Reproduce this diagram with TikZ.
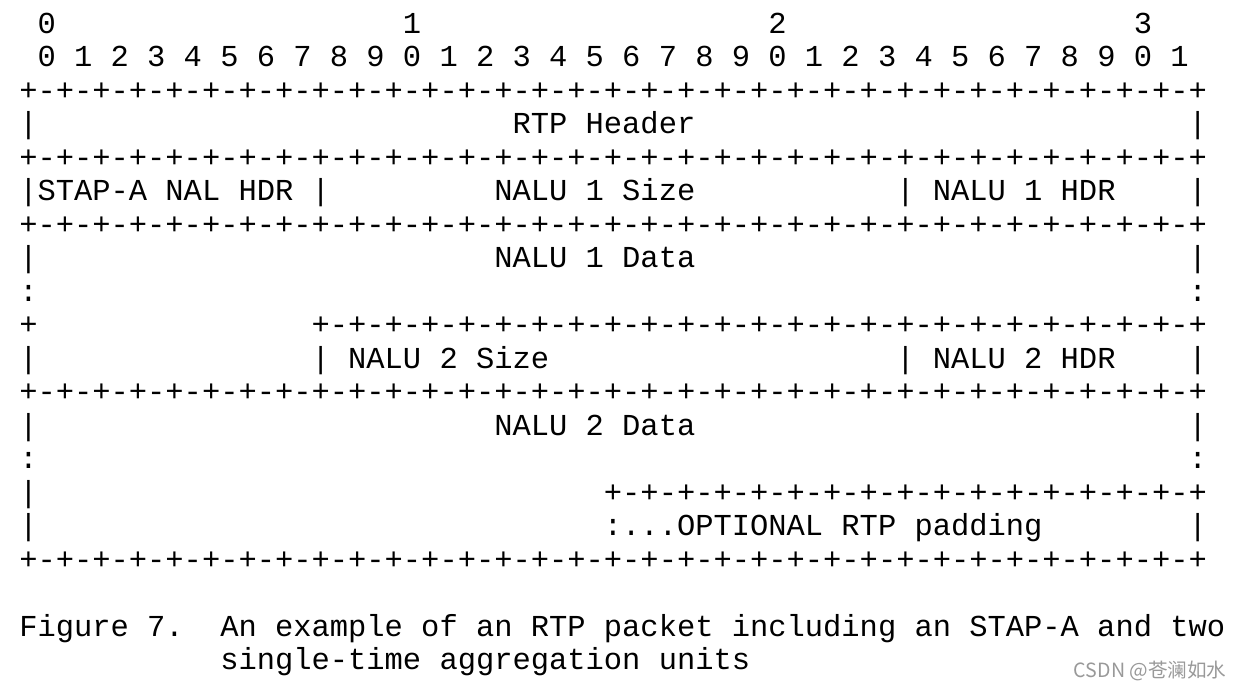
\documentclass[tikz,border=0pt]{standalone}
\usepackage{fontspec}
\usepackage{tikz}
\newfontfamily\monofont{Liberation Mono}
\newfontfamily\cjkfont{Noto Sans CJK SC}
\colorlet{markGray}{black!40}

% one row of "+-+-...+" with #1 cells
\newcommand\plusdash[1]{\foreach\k in {1,...,#1}{+-}+}

\tikzset{
  bits/.style={
    anchor=base west,
    inner sep=0pt,
    font=\monofont\fontsize{15.225pt}{16.75pt}\selectfont,
  },
}

\begin{document}
\begin{tikzpicture}[
  x=9.135pt,
  y=-16.75pt,
]
\useasboundingbox (-1.0345,-0.985) rectangle (67.0,19.55);

% bit numbering
\foreach \t in {0,...,3}
  \node[bits] (tens\t) at (20*\t+1,0) {\t};
\foreach \b in {0,...,31}{
  \pgfmathtruncatemacro\d{mod(\b,10)}
  \node[bits] (bit\b) at (2*\b+1,1) {\d};
}

% RTP header
\node[bits] (rule2) at (0,2) {\plusdash{32}};
\node[bits] (bar3l) at (0,3) {|};
\node[bits] (rtpHdr) at (27,3) {RTP Header};
\node[bits] (bar3r) at (64,3) {|};
\node[bits] (rule4) at (0,4) {\plusdash{32}};

% STAP-A header and first unit
\node[bits] (bar5l) at (0,5) {|};
\node[bits] (stapHdr) at (1,5) {STAP-A NAL HDR};
\node[bits] (bar5a) at (16,5) {|};
\node[bits] (nalu1Size) at (26,5) {NALU 1 Size};
\node[bits] (bar5b) at (48,5) {|};
\node[bits] (nalu1Hdr) at (50,5) {NALU 1 HDR};
\node[bits] (bar5r) at (64,5) {|};
\node[bits] (rule6) at (0,6) {\plusdash{32}};
\node[bits] (bar7l) at (0,7) {|};
\node[bits] (nalu1Data) at (26,7) {NALU 1 Data};
\node[bits] (bar7r) at (64,7) {|};
\node[bits] (dots8l) at (0,8) {:};
\node[bits] (dots8r) at (64,8) {:};

% second unit
\node[bits] (plus9) at (0,9) {+};
\node[bits] (rule9) at (16,9) {\plusdash{24}};
\node[bits] (bar10l) at (0,10) {|};
\node[bits] (bar10a) at (16,10) {|};
\node[bits] (nalu2Size) at (18,10) {NALU 2 Size};
\node[bits] (bar10b) at (48,10) {|};
\node[bits] (nalu2Hdr) at (50,10) {NALU 2 HDR};
\node[bits] (bar10r) at (64,10) {|};
\node[bits] (rule11) at (0,11) {\plusdash{32}};
\node[bits] (bar12l) at (0,12) {|};
\node[bits] (nalu2Data) at (26,12) {NALU 2 Data};
\node[bits] (bar12r) at (64,12) {|};
\node[bits] (dots13l) at (0,13) {:};
\node[bits] (dots13r) at (64,13) {:};

% padding
\node[bits] (bar14l) at (0,14) {|};
\node[bits] (rule14) at (32,14) {\plusdash{16}};
\node[bits] (bar15l) at (0,15) {|};
\node[bits] (padding) at (32,15) {:...OPTIONAL RTP padding};
\node[bits] (bar15r) at (64,15) {|};
\node[bits] (rule16) at (0,16) {\plusdash{32}};

% caption
\node[bits] (figNo) at (0,18) {Figure 7.};
\node[bits] (caption1) at (11,18) {An example of an RTP packet including an STAP-A and two};
\node[bits] (caption2) at (11,19) {single-time aggregation units};

\node[anchor=base east, inner sep=0pt, text=markGray,
  font=\cjkfont\fontsize{9.8pt}{11pt}\selectfont] (mark) at (66.12,19.25) {CSDN @苍澜如水};
\end{tikzpicture}
\end{document}
